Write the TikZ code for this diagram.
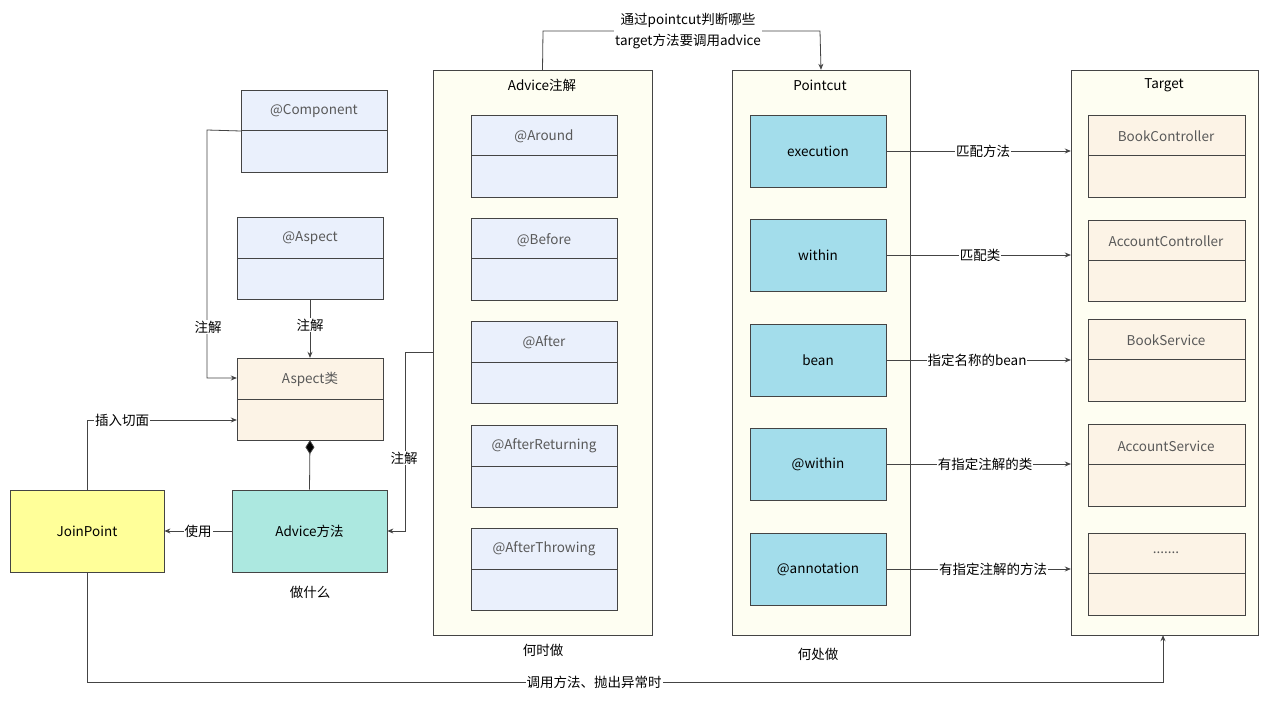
\documentclass[tikz,border=0pt]{standalone}
\usepackage{fontspec}
\setmainfont{Noto Sans CJK SC}
\usetikzlibrary{arrows.meta}
\definecolor{lblue}{HTML}{EAF0FC}
\definecolor{lorange}{HTML}{FCF3E6}
\definecolor{cont}{HTML}{FEFEF2}
\definecolor{cyanb}{HTML}{A3DDEB}
\definecolor{teal}{HTML}{ACE8E0}
\definecolor{yel}{HTML}{FFFF99}
\definecolor{bd}{HTML}{444444}
\begin{document}
\begin{tikzpicture}[x=1pt,y=-1pt,font=\fontsize{13.5}{15}\selectfont,
  lab/.style={fill=white,inner sep=1pt},
  arr/.style={draw=bd,line width=0.8pt,-{Stealth[length=6pt,width=5pt]}},
  ln/.style={draw=bd,line width=0.8pt}]
\useasboundingbox[fill=white] (0,0) rectangle (1269,701);
\newcommand{\cbox}[6]{%
  \path[fill=#6,draw=bd,line width=0.8pt] (#2,#3) rectangle (#4,#5);
  \node[minimum width=#4pt-#2pt,minimum height=#5pt-#3pt,inner sep=0pt] (#1) at ({(#2+#4)/2},{(#3+#5)/2}) {};
}
\newcommand{\cdiv}[3]{\draw[bd,line width=0.8pt] (#1,#3) -- (#2,#3);}
\newcommand{\ctitle}[3]{\node[text=black!65] at (#1,#2) {#3};}
% containers
\path[fill=cont,draw=bd,line width=0.8pt] (433,70) rectangle (652,635);
\node[minimum width=219pt,minimum height=565pt,inner sep=0pt] (adv) at (542.5,352.5) {};
\node at (542,85) {Advice注解};
\path[fill=cont,draw=bd,line width=0.8pt] (732,70) rectangle (910,635);
\node[minimum width=178pt,minimum height=565pt,inner sep=0pt] (pc) at (821,352.5) {};
\node at (820,85) {Pointcut};
\path[fill=cont,draw=bd,line width=0.8pt] (1071,70) rectangle (1258,635);
\node[minimum width=187pt,minimum height=565pt,inner sep=0pt] (tg) at (1164.5,352.5) {};
\node at (1164,85) {Target};
% left class boxes
\cbox{comp}{241}{90}{387}{172}{lblue}\cdiv{241}{387}{130}\ctitle{314}{111}{@Component}
\cbox{asp}{237}{217}{383}{299}{lblue}\cdiv{237}{383}{258}\ctitle{310}{238}{@Aspect}
\cbox{aspc}{237}{358}{383}{440}{lorange}\cdiv{237}{383}{399}\ctitle{310}{379}{Aspect类}
% advice annotations
\cbox{a1}{471}{115}{617}{197}{lblue}\cdiv{471}{617}{155}\ctitle{544}{136}{@Around}
\cbox{a2}{471}{218}{617}{300}{lblue}\cdiv{471}{617}{258}\ctitle{544}{240}{@Before}
\cbox{a3}{471}{321}{617}{403}{lblue}\cdiv{471}{617}{362}\ctitle{544}{342}{@After}
\cbox{a4}{471}{425}{617}{507}{lblue}\cdiv{471}{617}{466}\ctitle{544}{446}{@AfterReturning}
\cbox{a5}{471}{528}{617}{610}{lblue}\cdiv{471}{617}{569}\ctitle{544}{549}{@AfterThrowing}
% targets
\cbox{t1}{1088}{115}{1245}{197}{lorange}\cdiv{1088}{1245}{155}\ctitle{1166}{136}{BookController}
\cbox{t2}{1088}{220}{1245}{301}{lorange}\cdiv{1088}{1245}{260}\ctitle{1166}{241}{AccountController}
\cbox{t3}{1088}{319}{1245}{401}{lorange}\cdiv{1088}{1245}{359}\ctitle{1166}{340}{BookService}
\cbox{t4}{1088}{424}{1245}{506}{lorange}\cdiv{1088}{1245}{464}\ctitle{1166}{446}{AccountService}
\cbox{t5}{1088}{533}{1245}{615}{lorange}\cdiv{1088}{1245}{573}\ctitle{1166}{553}{.......}
% pointcut designators
\tikzset{pcb/.style={draw=bd,line width=0.8pt,fill=cyanb,minimum width=136pt,minimum height=72pt,inner sep=0pt}}
\node[pcb] (p1) at (818,151) {execution};
\node[pcb] (p2) at (818,255) {within};
\node[pcb] (p3) at (818,360) {bean};
\node[pcb] (p4) at (818,464) {@within};
\node[pcb] (p5) at (818,569) {@annotation};
% main boxes
\node[draw=bd,line width=0.8pt,fill=yel,minimum width=154pt,minimum height=82pt,inner sep=0pt] (jp) at (87,531) {JoinPoint};
\node[draw=bd,line width=0.8pt,fill=teal,minimum width=155pt,minimum height=82pt,inner sep=0pt] (am) at (309.5,531) {Advice方法};
% free labels
\node at (310,592) {做什么};
\node at (543,650) {何时做};
\node at (818,654) {何处做};
% connectors
\draw[arr] (adv.north) -- (543,31) -- (820,31) -- (pc.north);
\node[lab,align=center,font=\fontsize{13.5}{21}\selectfont] at (688,31) {通过pointcut判断哪些\\target方法要调用advice};
\draw[arr] (comp.west) -- (207,130) -- (207,378) -- (aspc.west|-0,378);
\node[lab] at (208,327) {注解};
\draw[arr] (asp.south) -- (aspc.north);
\node[lab] at (310,325) {注解};
\draw[ln,-{Diamond[length=14pt,width=9pt,fill=black]}] (am.north) -- (aspc.south);
\draw[arr] (jp.north) -- (87,420) -- (aspc.west|-0,420);
\node[lab] at (122,420) {插入切面};
\draw[arr] (am.west) -- (jp.east);
\node[lab] at (198,531) {使用};
\draw[arr] (adv.west|-0,352) -- (405,352) -- (405,531) -- (am.east);
\node[lab] at (404,458) {注解};
\foreach \i/\t/\lx in {1/匹配方法/983,2/匹配类/980,3/指定名称的bean/977,4/有指定注解的类/985,5/有指定注解的方法/993}{
  \draw[arr] (p\i.east) -- (tg.west|-p\i.east);
  \node[lab] at (\lx,0|-p\i.east) {\t};
}
\draw[arr] (jp.south) -- (87,682) -- (1163,682) -- (tg.south-|1163,0);
\node[lab] at (594,682) {调用方法、抛出异常时};
\end{tikzpicture}
\end{document}
